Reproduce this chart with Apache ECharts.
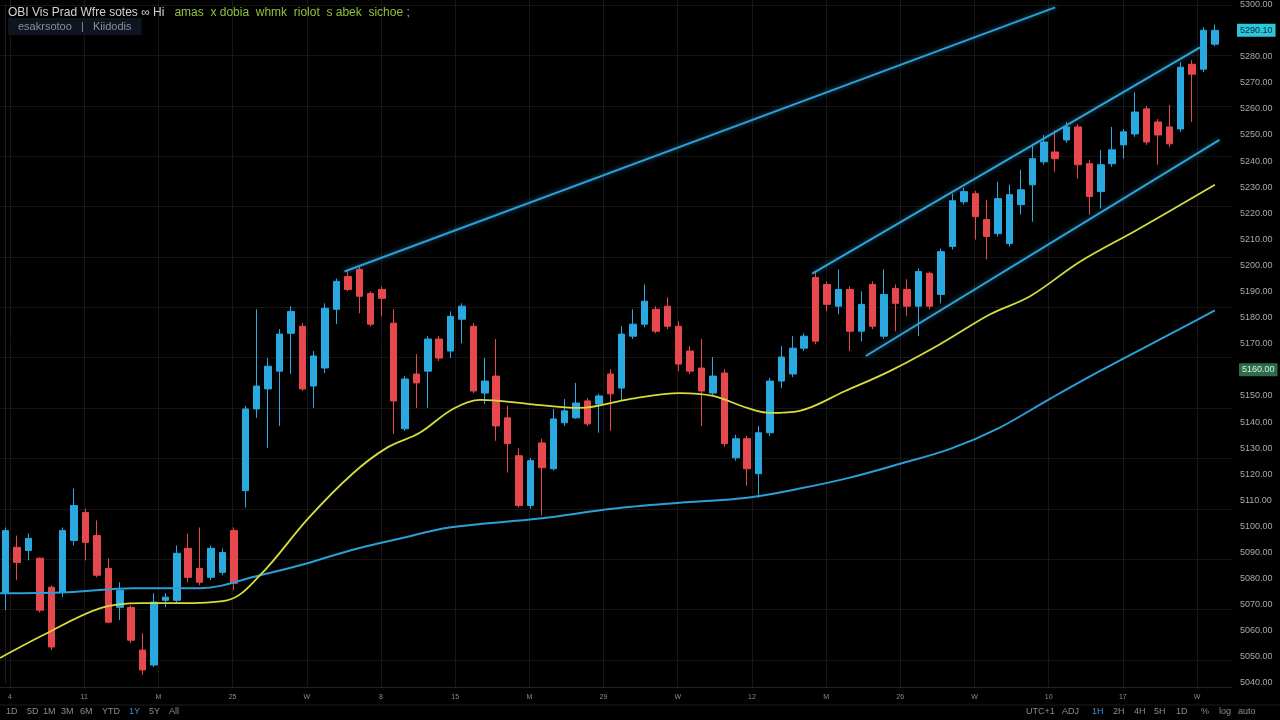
<!DOCTYPE html>
<html><head><meta charset="utf-8">
<script src="https://cdn.jsdelivr.net/npm/echarts@6/dist/echarts.min.js"></script>
<style>html,body{margin:0;padding:0;background:#000;}#c{width:1280px;height:720px;}</style>
</head><body><div id="c"></div>
<script>
// ---- data ----
const opens = [5074.4,5092.0,5090.8,5087.8,5076.7,5074.8,5094.6,5105.3,5096.5,5083.9,5069.0,5069.0,5052.6,5046.9,5071.7,5071.7,5091.6,5083.9,5080.5,5082.4,5098.4,
5113.7,5145.0,5152.7,5159.5,5174.0,5176.7,5153.8,5160.7,5183.2,5195.8,5198.5,5189.3,5190.8,5177.9,5137.4,5158.4,5159.5,5171.8,5167.2,5179.4,5176.7,5151.1,5157.6,5141.6,5127.1,
5108.0,5132.0,5122.1,5139.7,5141.6,5148.1,5146.9,5158.4,5153.0,5172.9,5177.5,5183.2,5184.4,5176.7,5167.2,5160.7,5151.1,5158.8,5126.3,5133.6,5120.2,5135.9,5155.7,5158.4,5168.3,
5195.4,5192.7,5184.4,5190.8,5174.8,5192.7,5172.9,5191.2,5190.8,5184.4,5197.0,5188.9,5207.3,5224.4,5227.5,5217.6,5212.2,5208.4,5223.3,
5230.9,5239.7,5243.5,5248.1,5253.1,5239.0,5228.3,5239.0,5246.2,5250.4,5260.0,5255.0,5253.1,5252.3,5277.1,5275.2,5284.8];
const closes = [5098.4,5086.2,5095.4,5067.9,5053.8,5098.4,5108.0,5093.9,5081.3,5063.3,5075.5,5056.4,5045.0,5071.0,5072.9,5089.7,5080.5,5078.6,5091.6,5090.0,5078.2,
5145.0,5153.8,5161.4,5173.7,5182.4,5152.7,5165.3,5183.6,5193.9,5190.8,5188.2,5177.5,5187.4,5148.1,5156.5,5155.0,5171.8,5164.5,5180.5,5184.4,5151.9,5155.7,5138.5,5131.7,5108.0,
5125.2,5122.5,5141.2,5144.3,5147.3,5139.3,5150.0,5150.8,5173.7,5177.5,5186.3,5174.8,5176.7,5162.2,5159.5,5151.9,5157.6,5131.7,5133.6,5122.1,5135.9,5155.7,5164.9,5168.3,5172.9,
5171.0,5185.1,5190.8,5174.8,5185.1,5176.7,5188.9,5185.5,5184.4,5197.7,5184.4,5205.3,5224.8,5228.3,5218.7,5211.1,5225.6,5227.1,5229.0,
5240.9,5247.3,5240.9,5253.1,5238.6,5226.4,5238.6,5244.3,5251.2,5258.8,5247.3,5250.0,5246.6,5276.0,5273.3,5290.1,5290.1];
const lows = [5067.9,5079.4,5087.0,5067.1,5052.6,5072.9,5092.7,5087.0,5080.5,5062.9,5064.1,5055.3,5043.1,5046.1,5069.0,5070.6,5078.6,5077.4,5079.4,5081.3,5075.5,
5107.2,5141.6,5130.1,5138.5,5158.4,5151.9,5145.4,5158.8,5177.5,5190.1,5181.7,5176.7,5180.5,5135.5,5136.6,5145.4,5145.4,5163.4,5164.5,5170.2,5151.1,5146.9,5132.8,5120.6,5107.2,
5106.8,5104.2,5121.4,5138.5,5141.2,5138.5,5135.9,5136.6,5148.1,5171.8,5176.3,5174.0,5175.6,5159.5,5158.4,5138.5,5150.0,5130.5,5125.2,5115.6,5111.0,5134.7,5153.0,5157.2,5167.2,
5169.8,5182.4,5181.3,5167.2,5171.0,5175.6,5171.8,5174.8,5180.5,5172.9,5183.2,5185.5,5206.1,5223.3,5209.9,5202.3,5211.1,5207.3,5219.5,
5216.8,5238.6,5235.9,5247.0,5233.2,5219.5,5221.8,5237.8,5240.9,5249.3,5246.2,5238.6,5245.4,5251.2,5255.0,5274.1,5284.0];
const highs = [5099.6,5096.5,5097.3,5088.1,5077.4,5099.6,5114.5,5106.8,5102.3,5087.8,5078.6,5069.8,5059.1,5074.4,5074.4,5092.7,5097.3,5099.6,5092.7,5091.6,5099.6,
5146.2,5183.2,5164.5,5175.6,5184.4,5177.9,5167.2,5185.5,5195.0,5198.5,5199.6,5190.1,5192.0,5183.2,5157.6,5166.0,5172.9,5172.9,5182.4,5185.5,5177.9,5164.5,5171.8,5146.2,5130.1,
5126.3,5133.6,5145.0,5148.8,5155.0,5149.2,5150.8,5160.3,5176.7,5183.2,5192.7,5184.4,5187.8,5178.6,5169.1,5171.8,5164.9,5160.3,5135.1,5134.7,5138.5,5156.9,5169.1,5172.9,5174.0,
5197.7,5193.9,5198.5,5192.0,5190.1,5193.9,5198.5,5192.7,5194.7,5198.9,5197.7,5206.5,5227.5,5229.8,5228.6,5225.2,5232.1,5230.9,5236.7,
5246.6,5250.0,5251.9,5255.0,5254.2,5240.5,5244.3,5253.1,5252.3,5266.4,5261.1,5256.1,5261.5,5277.9,5278.7,5291.3,5292.4];

// moving averages, read as [bar index, price]
const yellowMA = [[-0.5,5049.6],[3.3,5058.4],[8.3,5068.7],[12.0,5070.6],[15.0,5070.6],[19.4,5071.7],[22.3,5081.3],[26.5,5103.0],[30.4,5120.2],[33.4,5130.1],[36.3,5135.9],[39.2,5145.0],[41.6,5148.5],[45.9,5146.9],[50.3,5145.4],[54.7,5148.8],[59.1,5151.1],[62.0,5150.0],[65.0,5145.4],[67.0,5143.5],[69.6,5144.3],[73.6,5151.9],[77.5,5159.5],[81.9,5169.8],[86.3,5181.3],[89.8,5188.2],[94.2,5201.5],[99.2,5213.7],[106.0,5230.9]];
const blueMA = [[-0.5,5074.4],[5.4,5074.8],[11.2,5076.3],[17.0,5076.3],[22.3,5081.3],[25.8,5085.1],[30.2,5090.8],[34.6,5095.4],[38.9,5099.6],[46.8,5103.0],[53.2,5106.8],[59.1,5109.1],[65.0,5111.0],[69.6,5114.5],[74.0,5118.7],[78.4,5124.0],[82.8,5129.7],[87.1,5137.8],[91.5,5148.8],[95.9,5159.5],[102.9,5175.6],[106.0,5182.8]];
// trend channel lines
const trendTop = [[29.7,5197.7],[92.0,5298.9]];
const channelUpper = [[70.7,5196.9],[104.7,5283.6]];
const channelLower = [[75.4,5165.3],[106.4,5248.1]];
const markedLevel = 5160;

const dayTicks = ['4','11','M','25','W','8','15','M','29','W','12','M','26','W','10','17','W'];
const rangeButtons = ['1D','5D','1M','3M','6M','YTD','1Y','5Y','All'];
const statusItems = ['UTC+1','ADJ','1H','2H','4H','5H','1D','%','log','auto'];

const categories = [];
for (let i = 0; i < 108; i++) categories.push('B' + (i + 1));
const candles = opens.map((o, i) => [o, closes[i], lows[i], highs[i]]);

const chart = echarts.init(document.getElementById('c'));
const BLUE = '#2aa8e0', RED = '#e6484d';

const rangeX = [6,27,43,61,80,102,129,149,169];
const statusX = [1026,1062,1092,1113,1134,1154,1176,1201,1219,1238];
const graphics = [
  {type:'line', shape:{x1:0,y1:705,x2:1280,y2:705}, style:{stroke:'#1c1c1c',lineWidth:1}, silent:true}
];
rangeButtons.forEach((t, k) => graphics.push({type:'text', x:rangeX[k], y:712, silent:true,
  style:{text:t, fill: k === 6 ? '#3a8fd0' : '#8c8c8c', font:'9px "Liberation Sans"', verticalAlign:'middle'}}));
statusItems.forEach((t, k) => graphics.push({type:'text', x:statusX[k], y:712, silent:true,
  style:{text:t, fill: k === 2 ? '#3a8fd0' : '#8c8c8c', font:'9px "Liberation Sans"', verticalAlign:'middle'}}));

chart.setOption({
  backgroundColor: '#000',
  animation: false,
  title: [
    {left: 8, top: 4, padding: 0,
     text: '{a|OBI Vis Prad Wfre sotes ∞ Hi}  {b|amas  x dobia  whmk  riolot  s abek  sichoe ;}',
     textStyle: {fontWeight: 'normal',
       rich: {a: {color: '#d2d2d2', fontSize: 12, fontWeight: 'normal', fontFamily: 'Liberation Sans'},
              b: {color: '#8fc23a', fontSize: 12, fontWeight: 'normal', fontFamily: 'Liberation Sans'}}}},
    {left: 8, top: 18, padding: [3, 10], backgroundColor: '#0f1520',
     text: 'esakrsotoo   |   Kiidodis',
     textStyle: {color: '#8a909a', fontSize: 11, fontWeight: 'normal', fontFamily: 'Liberation Sans'}}
  ],
  grid: [
    {left: 0, right: 48, top: 2, bottom: 37},
    {left: 10, right: 83, top: 0, bottom: 33},
    {left: 0, right: 48, top: 5, bottom: 60}
  ],
  xAxis: [
    {type: 'category', gridIndex: 0, data: categories, boundaryGap: true, offset: 4,
     axisLine: {show: true, lineStyle: {color: '#232323'}}, axisTick: {show: false}, axisLabel: {show: false}, splitLine: {show: false}},
    {type: 'value', gridIndex: 0, min: -0.5, max: 107.5, show: false},
    {type: 'value', gridIndex: 1, min: 0, max: 16, interval: 1,
     axisLine: {show: false}, axisTick: {show: false},
     axisLabel: {show: true, margin: 7, fontSize: 7, color: '#8a8a8a', formatter: v => dayTicks[v] || ''},
     splitLine: {show: true, lineStyle: {color: '#171717', width: 1}}},
    {type: 'value', gridIndex: 2, show: false}
  ],
  yAxis: [
    {type: 'value', gridIndex: 0, position: 'right', min: 5040, max: 5300, interval: 10,
     axisLine: {show: true, lineStyle: {color: '#1c1c1c'}}, axisTick: {show: false},
     axisLabel: {margin: 8, fontSize: 9, color: '#a8a8a8', fontFamily: 'Liberation Sans', formatter: v => v.toFixed(2)},
     splitLine: {show: false}},
    {type: 'value', gridIndex: 1, show: false},
    {type: 'value', gridIndex: 2, min: 0, max: 13, interval: 1,
     axisLine: {show: false}, axisTick: {show: false}, axisLabel: {show: false},
     splitLine: {show: true, lineStyle: {color: '#151515', width: 1}}}
  ],
  series: [
    {type: 'candlestick', xAxisIndex: 0, yAxisIndex: 0, data: candles, barWidth: 7, clip: false,
     itemStyle: {color: BLUE, color0: RED, borderColor: BLUE, borderColor0: RED, borderWidth: 1},
     markLine: {silent: true, symbol: ['none', 'none'], z: 10,
       lineStyle: {color: 'rgba(0,0,0,0)', width: 0, type: 'solid'},
       data: [
         {yAxis: closes[closes.length - 1],
          label: {show: true, position: 'end', distance: 5, formatter: p => p.value.toFixed(2), color: '#062a33', fontSize: 9,
                  backgroundColor: '#2ec6da', padding: [2, 3]}},
         {yAxis: markedLevel,
          label: {show: true, position: 'end', distance: 7, formatter: p => p.value.toFixed(2), color: '#d8f5e0', fontSize: 9,
                  backgroundColor: '#2d6b4b', padding: [2, 3]}}
       ]}},
    {type: 'line', xAxisIndex: 1, yAxisIndex: 0, data: blueMA, smooth: 0.35, symbol: 'none', clip: false,
     lineStyle: {color: '#2a9fd8', width: 2}},
    {type: 'line', xAxisIndex: 1, yAxisIndex: 0, data: yellowMA, smooth: 0.35, symbol: 'none', clip: false,
     lineStyle: {color: '#d6dc3c', width: 1.8}},
    {type: 'line', xAxisIndex: 1, yAxisIndex: 0, data: trendTop, symbol: 'none', clip: false,
     lineStyle: {color: '#2c9fd6', width: 2, shadowBlur: 5, shadowColor: 'rgba(40,160,220,0.6)'}},
    {type: 'line', xAxisIndex: 1, yAxisIndex: 0, data: channelUpper, symbol: 'none', clip: false,
     lineStyle: {color: '#2ea4d8', width: 2, shadowBlur: 5, shadowColor: 'rgba(40,160,220,0.6)'}},
    {type: 'line', xAxisIndex: 1, yAxisIndex: 0, data: channelLower, symbol: 'none', clip: false,
     lineStyle: {color: '#2ea4d8', width: 2, shadowBlur: 5, shadowColor: 'rgba(40,160,220,0.6)'}}
  ],
  graphic: graphics
});
</script></body></html>
